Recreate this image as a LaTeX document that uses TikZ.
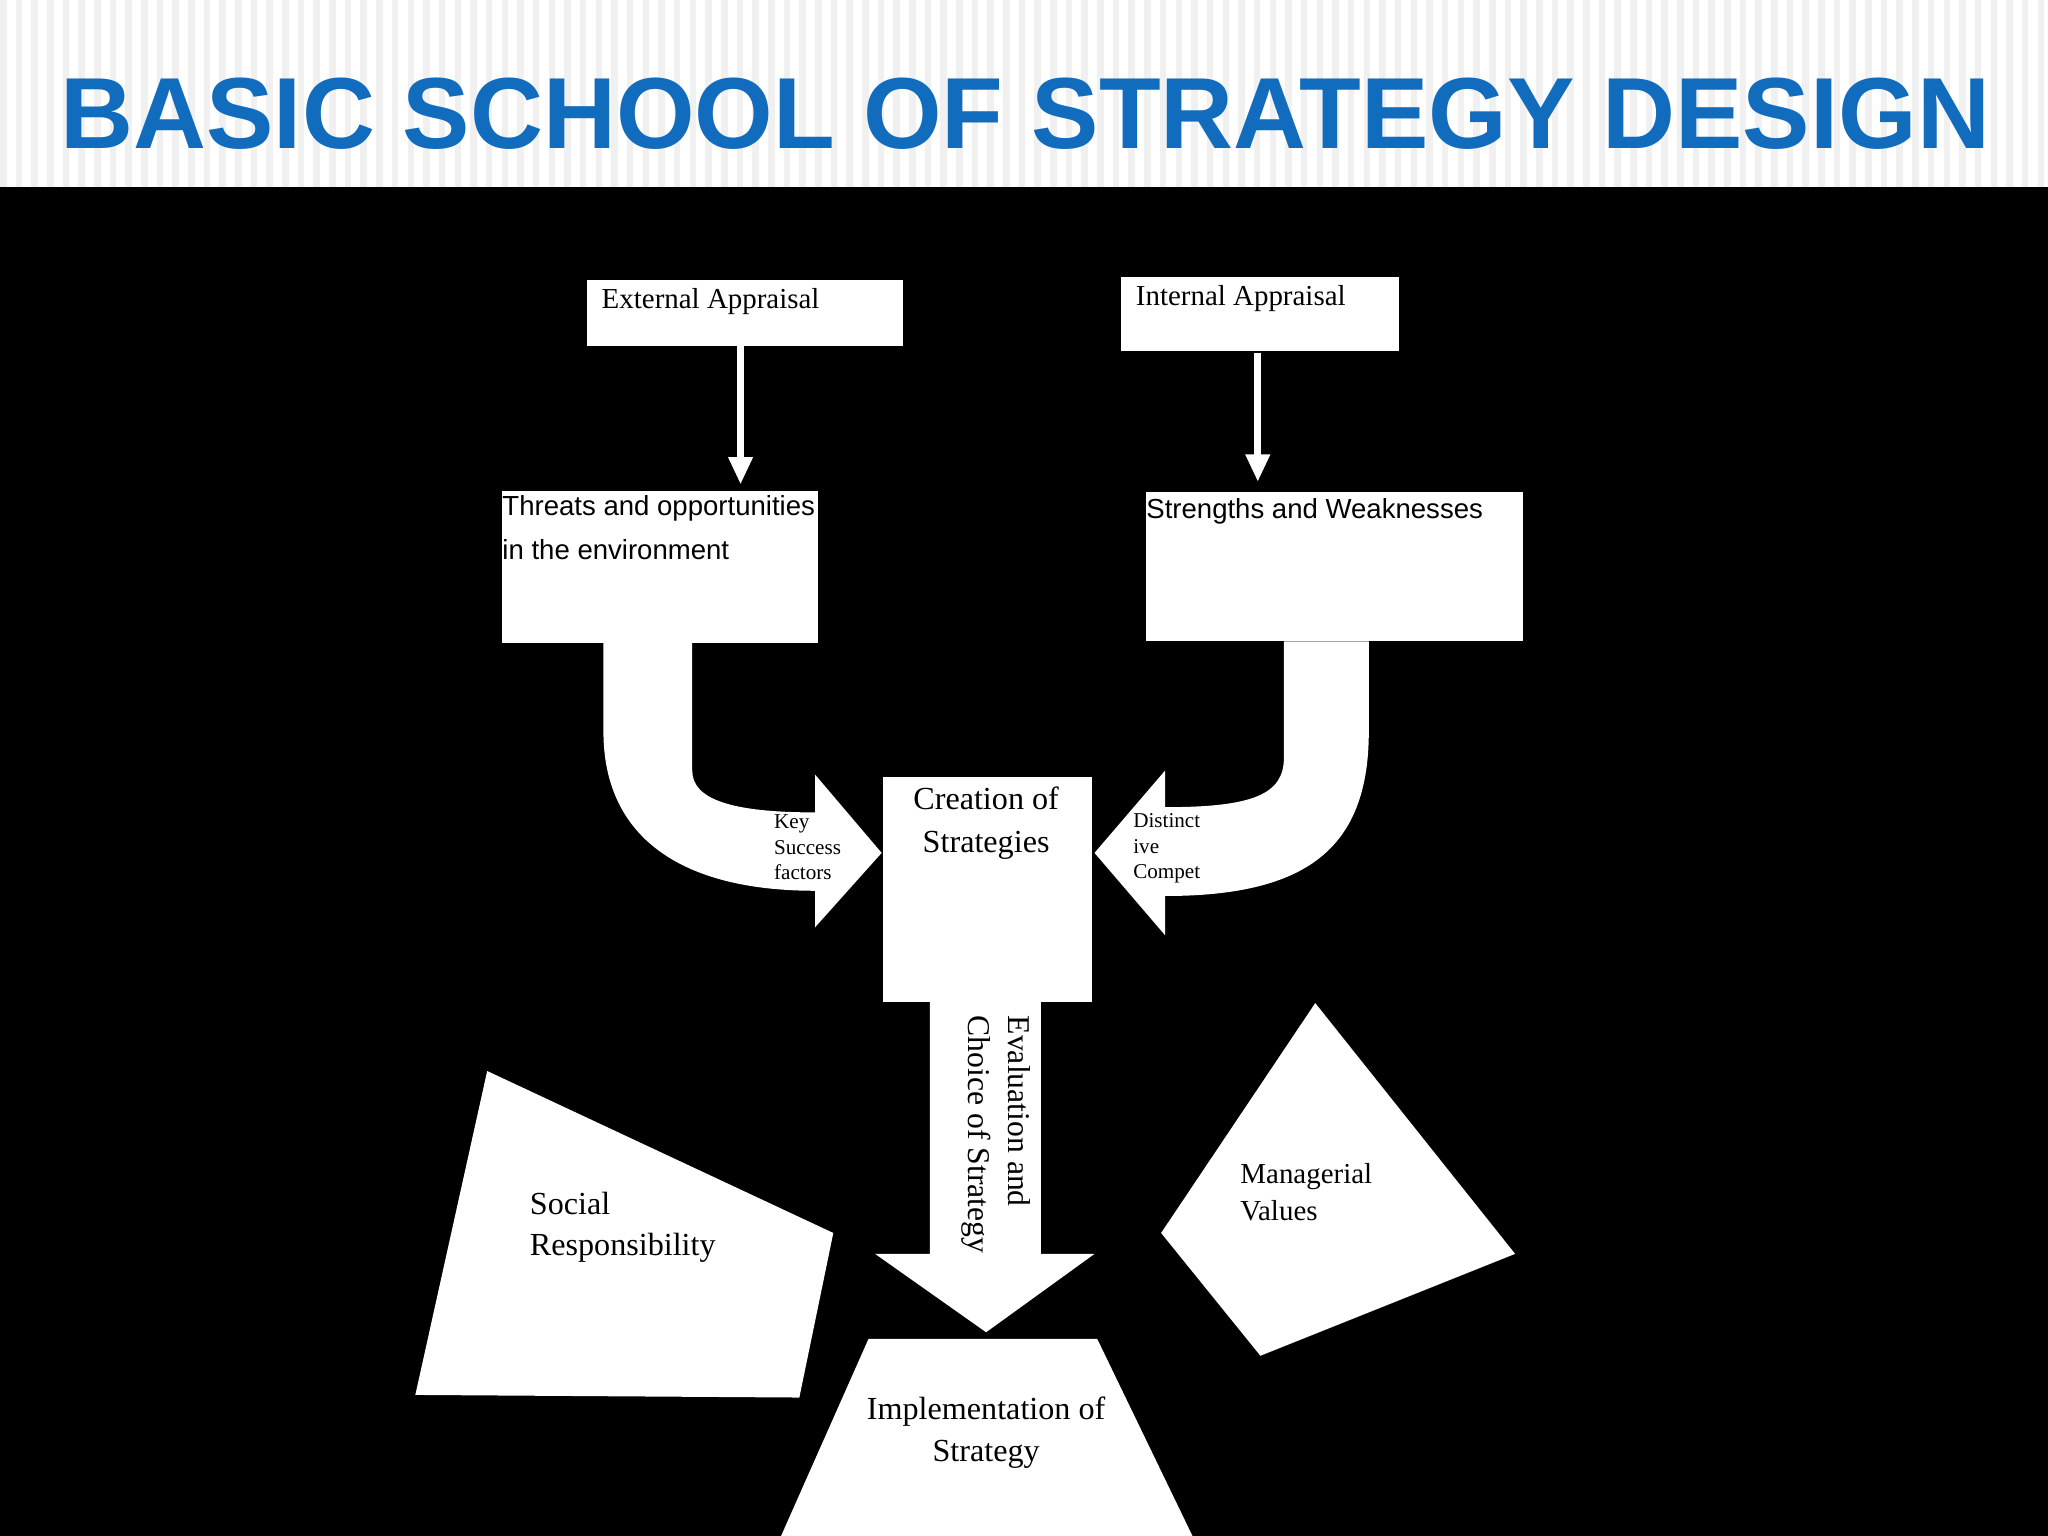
\documentclass[tikz,border=0pt]{standalone}
\usepackage{fontspec}
\setmainfont{Liberation Serif}
\newfontfamily\hsans{Liberation Sans}
\usetikzlibrary{arrows.meta}
\definecolor{titleblue}{RGB}{18,108,190}
\begin{document}
\begin{tikzpicture}[x=0.01cm,y=-0.01cm,
  wbox/.style={fill=white,draw=black,line width=0.3pt},
  stxt/.style={font=\fontsize{6.3}{8}\selectfont,align=left,inner sep=0pt,anchor=north west},
  ftxt/.style={font=\hsans\fontsize{6.0}{9.5}\selectfont,align=left,inner sep=0pt,anchor=north west},
  small/.style={font=\fontsize{4.6}{5.6}\selectfont,align=left,inner sep=0pt,anchor=north west},
  warrow/.style={white,line width=1.6pt,-{Triangle[width=5pt,length=6pt]}}]
\useasboundingbox (0,0) rectangle (1568,1176);
\fill[white] (0,0) rectangle (1568,143);
\foreach \x in {0,12,...,1568} \fill[black!6] (\x,0) rectangle (\x+5,143);
\node[font=\hsans\bfseries\fontsize{22}{26}\selectfont,text=titleblue,inner sep=0pt] (title) at (785,87) {BASIC SCHOOL OF STRATEGY DESIGN};
\fill[black] (0,143) rectangle (1568,1176);
% boxes
\node[wbox,minimum width=2.43cm,minimum height=0.52cm,anchor=north west] (ext) at (448,213) {};
\node[stxt] at (460,220) {External Appraisal};
\node[wbox,minimum width=2.14cm,minimum height=0.58cm,anchor=north west] (int) at (857,211) {};
\node[stxt] at (869,218) {Internal Appraisal};
\node[wbox,minimum width=2.43cm,minimum height=1.17cm,anchor=north west] (thr) at (383,375) {};
\node[ftxt] at (384,379) {Threats and opportunities\\in the environment};
\node[wbox,minimum width=2.90cm,minimum height=1.15cm,anchor=north west] (str) at (876,376) {};
\node[ftxt] at (877,381) {Strengths and Weaknesses};
\coordinate (extb) at (567,265); \coordinate (thrt) at (567,371);
\coordinate (intb) at (963,270); \coordinate (strt) at (963,369);
\draw[warrow] (extb) -- (thrt);
\draw[warrow] (intb) -- (strt);
% left curved arrow
\fill[white] (462,492) -- (530,492) -- (530,590) .. controls (530,612) and (560,622) .. (624,622)
  -- (624,593) -- (675,653) -- (624,710) -- (624,682) .. controls (520,682) and (462,640) .. (462,560) -- cycle;
% right curved arrow
\fill[white] (1048,491) -- (983,491) -- (983,580) .. controls (983,608) and (960,618) .. (892,618)
  -- (892,590) -- (838,653) -- (892,716) -- (892,686) .. controls (1000,686) and (1048,650) .. (1048,560) -- cycle;
\node[wbox,minimum width=1.61cm,minimum height=1.73cm,anchor=north west] (cre) at (675,594) {};
\node[stxt,anchor=north,align=center,font=\fontsize{7}{9.2}\selectfont] at (755,602) {Creation of\\Strategies};
\node[small] at (592,623) {Key\\Success\\factors};
\node[small] at (867,622) {Distinct\\ive\\Compet};
% down arrow
\fill[white] (712,767) -- (797,767) -- (797,960) -- (838,960) -- (755,1020) -- (670,960) -- (712,960) -- cycle;
\node[rotate=-90,font=\fontsize{6.9}{8.8}\selectfont,align=left,inner sep=0pt,anchor=north west] at (790,777) {Evaluation and\\Choice of Strategy};
% social
\fill[white] (373,820) -- (638,944) -- (612,1070) -- (318,1068) -- cycle;
\node[stxt,font=\fontsize{7}{9}\selectfont] (soc) at (405,912) {Social\\Responsibility};
% managerial
\fill[white] (1007,768) -- (1160,960) -- (965,1038) -- (889,944) -- cycle;
\node[stxt] (man) at (949,890) {Managerial\\Values};
% implementation
\fill[white] (665,1025) -- (840,1025) -- (913,1176) -- (598,1176) -- cycle;
\node[stxt,anchor=north,align=center,font=\fontsize{7}{9}\selectfont] (imp) at (755,1069) {Implementation of\\Strategy};
\end{tikzpicture}
\end{document}
